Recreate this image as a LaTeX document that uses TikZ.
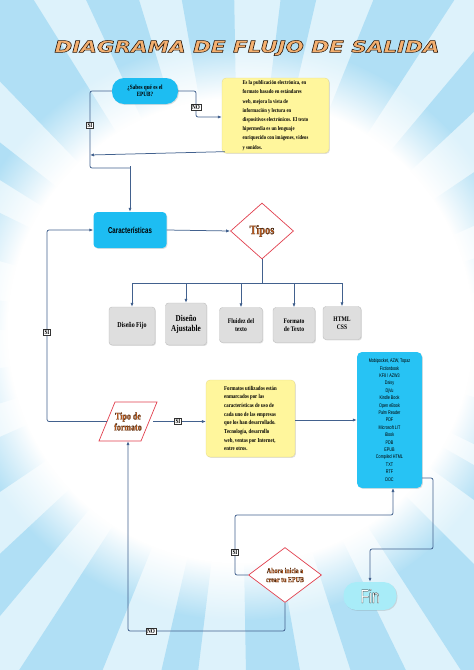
\documentclass[tikz,border=0pt]{standalone}
\usepackage{fontspec}
\setmainfont{Liberation Serif}
\newfontfamily\cond[FakeStretch=0.8]{Liberation Serif}
\newfontfamily\condout[FakeStretch=0.8,FakeBold=1.4]{Liberation Serif Bold}
\newfontfamily\condoutS[FakeStretch=0.8,FakeBold=0.8]{Liberation Serif Bold}
\newfontfamily\condsans[FakeStretch=0.72]{Liberation Sans}
\newfontfamily\finfont[FakeStretch=0.72,FakeBold=1.2]{Liberation Sans}
\newfontfamily\ttlfont[FakeBold=3]{DejaVu Sans Bold Oblique}
\newcommand{\darkstroke}{\special{pdf:code 0.16 0.09 0.04 RG}}
\newcommand{\blackstroke}{\special{pdf:code 0.12 0.12 0.12 RG}}
\usetikzlibrary{shapes.geometric,arrows.meta,shadows,fadings,calc}
\definecolor{bgbase}{HTML}{DDF2FB}
\definecolor{raycol}{HTML}{B0DFF5}
\definecolor{linecol}{HTML}{42618E}
\definecolor{cyanc}{HTML}{1DBDF2}
\definecolor{listc}{HTML}{27C3F4}
\definecolor{yel}{HTML}{FFF69C}
\definecolor{yeld}{HTML}{E6DA8A}
\definecolor{grayb}{HTML}{DEDEDE}
\definecolor{grayd}{HTML}{BDBDBD}
\definecolor{redc}{HTML}{E2404E}
\definecolor{finc}{HTML}{A8ECF8}
\definecolor{orangec}{HTML}{C8601E}
\definecolor{titleor}{HTML}{F4B070}
\begin{document}
\begin{tikzpicture}[x=1pt,y=-1pt,
  conn/.style={draw=linecol, line width=0.75pt, rounded corners=2pt},
  arr/.style={conn, -{Latex[length=4pt,width=3.2pt]}},
  lbl/.style={draw=black!80, fill=white, line width=0.4pt, inner sep=0.9pt, font=\cond\bfseries\fontsize{6.5}{7}\selectfont},
  shad/.style={drop shadow={opacity=0.25,shadow xshift=0.9pt,shadow yshift=-0.9pt}},
  cyanbox/.style={fill=cyanc, rounded corners=4pt, shad},
  ybox/.style={fill=yel, draw=yeld, line width=0.3pt, rounded corners=4pt, shad, align=left, inner sep=0pt},
  gbox/.style={fill=grayb, draw=grayd, line width=0.4pt, rounded corners=3pt, shad, align=center, inner sep=0pt, font=\cond\bfseries\fontsize{7.5}{8.5}\selectfont},
  dia/.style={diamond, draw=redc, line width=0.7pt, fill=white, inner sep=0pt, aspect=1},
  otext/.style={text=orangec, align=center, inner sep=0pt}
]
\useasboundingbox (0,0) rectangle (474,670);
% background
\begin{scope}
\clip (0,0) rectangle (474,670);
\fill[bgbase] (0,0) rectangle (474,670);
\foreach \a/\w in {0/7,16/10,30/6,45/12,64/8,80/9,97/6,112/11,130/7,146/10,163/8,180/7,196/10,212/6,226/12,245/8,260/9,277/6,292/11,310/7,326/10,343/8}
  \fill[raycol] (240,330) -- +(\a:900) -- +(\a+\w:900) -- cycle;
\fill[white, path fading=circle with fuzzy edge 20 percent] (240,330) circle[radius=290pt];
\end{scope}
% title
\node[text=titleor, inner sep=0] (title) at (247,48) {\resizebox{385pt}{12pt}{\ttlfont\darkstroke DIAGRAMA DE FLUJO DE SALIDA}};

% top part
\node[fill=cyanc, rounded corners=12pt, shad, minimum width=66pt, minimum height=26pt, inner sep=0, align=center,
  font=\cond\bfseries\fontsize{6.5}{7.5}\selectfont] (pill) at (145,91) {¿Sabes qué es el\\EPUB?};
\node[ybox, minimum width=107pt, minimum height=75pt, font=\cond\bfseries\fontsize{5.8}{9.2}\selectfont] (yb1) at (275.5,115.5)
 {Es la publicación electrónica, en\\formato basado en estándares\\web, mejora la vista de\\información y lectura en\\dispositivos electrónicos. El texto\\hipermedia es un lenguaje\\enriquecido con imágenes, videos\\y sonidos.};
\node[cyanbox, minimum width=73pt, minimum height=36pt, font=\condsans\bfseries\fontsize{8.5}{9}\selectfont] (car) at (130,230) {Características};
\node[dia, minimum width=63pt, minimum height=56pt, otext, font=\condout\fontsize{13}{14}\selectfont] (tipos) at (262,231) {\darkstroke Tipos};

% gray boxes
\node[gbox, minimum width=46pt, minimum height=38pt] (df) at (132,326) {Diseño Fijo};
\node[gbox, minimum width=41pt, minimum height=42pt, font=\cond\bfseries\fontsize{9}{10}\selectfont] (da) at (186,324) {Diseño\\Ajustable};
\node[gbox, minimum width=43pt, minimum height=35pt, font=\cond\bfseries\fontsize{7}{8.5}\selectfont] (ft) at (241,325) {Fluidez del\\texto};
\node[gbox, minimum width=42pt, minimum height=35pt, font=\cond\bfseries\fontsize{7}{8.5}\selectfont] (fm) at (294,325) {Formato\\de Texto};
\node[gbox, minimum width=38pt, minimum height=33pt, font=\cond\bfseries\fontsize{7}{8.5}\selectfont] (html) at (342,323) {HTML\\CSS};

% tipo de formato
\fill[white] (115,402) -- (157,402) -- (141,441) -- (99,441) -- cycle;
\draw[redc, line width=0.7pt] (115,402) -- (157,402) -- (141,441) -- (99,441) -- cycle;
\node[minimum width=50pt, minimum height=39pt, otext, font=\condout\fontsize{10}{11}\selectfont] (tf) at (128,421.5) {\darkstroke Tipo de\\\darkstroke formato};

\node[ybox, minimum width=89pt, minimum height=77pt, font=\cond\bfseries\fontsize{6}{8.7}\selectfont] (yb2) at (250.5,418.5)
 {Formatos utilizados están\\enmarcados por las\\características de uso de\\cada uno de las empresas\\que los han desarrollado.\\Tecnología, desarrollo\\web, ventas por Internet,\\entre otros.};

\node[fill=listc, rounded corners=5pt, shad, minimum width=65pt, minimum height=136pt, inner sep=0, align=center,
  font=\condsans\fontsize{5.2}{7.4}\selectfont] (list) at (389.5,420)
 {Mobipocket, AZW, Topaz\\Fictionbook\\KF8 / AZW3\\Daisy\\DjVu\\Kindle Book\\Open eBook\\Palm Reader\\PDF\\Microsoft LIT\\iBook\\PDB\\EPUB\\Compiled HTML\\TXT\\RTF\\DOC};

\node[dia, minimum width=73pt, minimum height=55pt, otext, font=\condoutS\fontsize{7.5}{9}\selectfont] (ahora) at (285,575) {\darkstroke Ahora inicia a\\\darkstroke crear tu EPUB};

\node[fill=finc, rounded corners=13pt, shad, minimum width=53pt, minimum height=28pt, inner sep=0, text=white,
  font=\finfont\fontsize{19}{19}\selectfont] (fin) at (370,596) {\blackstroke Fin};

% connectors
\coordinate (j1) at (90,155);
\draw[conn] (pill.west) -- (90,91) -- (90,168) -- (130,168);
\draw[arr] (130,166) -- (car.north);
\node[lbl] at (90,125) {SI};
\draw[arr] (pill.east) -- (196,91) -- (196,117) -- (yb1.west |- 0,117);
\node[lbl] at (196,107) {NO};
\draw[arr] ([xshift=3pt,yshift=1.5pt]yb1.south west) -- (j1);
\draw[arr] (car.east) -- (tipos.west);
\draw[conn] (tipos.south) -- (262,283);
\draw[conn] (132,283) -- (342,283);
\foreach \n in {df,da,ft,fm,html}
  \draw[arr] (\n.north |- 0,283) -- (\n.north);
\draw[arr] (107,421.5) -- (47,421.5) -- (47,230) -- (car.west);
\node[lbl] at (47,332) {SI};
\draw[arr] (153,421.5) -- (yb2.west |- 0,421.5);
\node[lbl] at (178,421.5) {SI};
\draw[arr] (yb2.east |- 0,420) -- (list.west |- 0,420);
\draw[arr] (ahora.west) -- (235,575) -- (235,515) -- (393,515) -- (393,488);
\node[lbl] at (235,552) {SI};
\draw[arr] (list.east |- 0,478) -- (433,478) -- (433,549) -- (370,549) -- (fin.north);
\draw[arr] (ahora.south) -- (285,631) -- (128,631) -- (tf.south);
\node[lbl] at (151,631) {NO};
\end{tikzpicture}
\end{document}
